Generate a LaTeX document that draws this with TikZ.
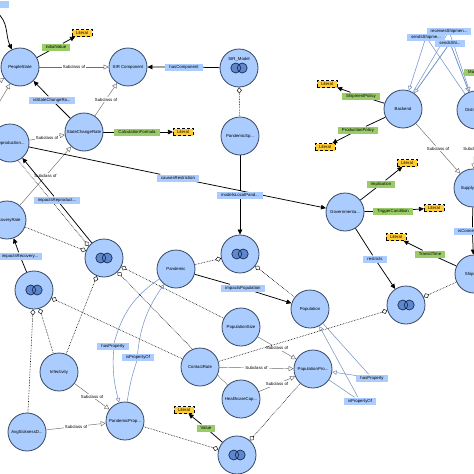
\documentclass[tikz,border=0pt]{standalone}
\usepackage{fontspec}
\setmainfont{Liberation Sans}
\usetikzlibrary{arrows.meta}

\definecolor{clsfill}{RGB}{170,204,255}
\definecolor{clsline}{RGB}{55,72,100}
\definecolor{dpfill}{RGB}{153,204,102}
\definecolor{litfill}{RGB}{255,204,51}
\definecolor{invline}{RGB}{120,150,200}
\definecolor{iconfill}{RGB}{95,135,205}
\definecolor{iconline}{RGB}{25,45,85}

\pgfdeclarelayer{edges}
\pgfsetlayers{edges,main}

\newcommand{\vfont}{\fontsize{4.3}{5}\selectfont}

\tikzset{
    cls/.style = {circle, draw=clsline, line width=0.8pt, fill=clsfill, minimum size=38pt, inner sep=0pt, font=\vfont},
    setnode/.style = {cls, path picture={
        \fill[iconfill] ([xshift=-3.2pt]path picture bounding box.center) circle (5pt)
                        ([xshift=3.2pt]path picture bounding box.center) circle (5pt);
        \draw[iconline, line width=0.7pt] ([xshift=-3.2pt]path picture bounding box.center) circle (5pt)
                        ([xshift=3.2pt]path picture bounding box.center) circle (5pt);}},
    opbox/.style = {rectangle, fill=clsfill, inner xsep=4pt, inner ysep=1.2pt, minimum height=7pt, font=\vfont},
    dpbox/.style = {rectangle, fill=dpfill, inner xsep=4pt, inner ysep=1.2pt, minimum height=7pt, font=\vfont},
    litbox/.style = {rectangle, fill=litfill, draw=black, densely dashed, line width=0.4pt, inner xsep=4pt, inner ysep=1.2pt, minimum height=7pt, font=\vfont},
    subtxt/.style = {fill=white, inner sep=1pt, font=\vfont},
    edgeop/.style = {-{Triangle[length=5pt,width=4.5pt]}, line width=0.75pt},
    edgesub/.style = {-{Triangle[length=5pt,width=5pt,fill=white]}, line width=0.45pt, draw=gray!85!black},
    edgeinv/.style = {-{Triangle[length=4.5pt,width=4.5pt,fill=white]}, line width=0.55pt, draw=invline},
    edgeset/.style = {{Diamond[length=6pt,width=5pt,fill=white,line width=0.45pt]}-, densely dotted, line width=0.6pt},
}

\begin{document}
\begin{tikzpicture}[x=1pt,y=1pt]
\useasboundingbox (0,0) rectangle (474,-474);
%
% classes
\node[cls] (ps) at (20,-67) {PeopleState};
\node[cls] (sirc) at (128,-67) {SIR Component};
\node[setnode] (sirm) at (239,-68) {};
\node[font=\vfont] (sirmtxt) at (239,-59) {SIR\_Model};
\node[cls] (pansp) at (240,-136) {PandemicSp...};
\node[cls] (scr) at (84,-132) {StateChangeRate};
\node[cls] (repr) at (10,-143) {Reproduction...};
\node[cls] (recr) at (7,-220) {RecoveryRate};
\node[setnode] (int2) at (104,-258) {};
\node[setnode] (int1) at (34,-290) {};
\node[setnode] (int3) at (240,-254) {};
\node[cls] (pan) at (176,-269) {Pandemic};
\node[cls] (pop) at (310,-309) {Population};
\node[cls] (popsz) at (241,-327) {PopulationSize};
\node[cls] (cr) at (200,-367) {ContactRate};
\node[cls] (hc) at (241,-399) {HealthcareCap...};
\node[cls] (popp) at (313,-369) {PopulationPro...};
\node[cls] (inf) at (59,-372) {Infectivity};
\node[cls] (avg) at (27,-432) {AvgSicknessD...};
\node[cls] (panp) at (125,-421) {PandemicProp...};
\node[setnode] (intb) at (237,-455) {};
\node[setnode] (intr) at (406,-305) {};
\node[cls] (be) at (403,-109) {Backend};
\node[cls] (dist) at (476,-110) {Distribution};
\node[cls] (sc) at (473,-188) {SupplyChain};
\node[cls] (ship) at (474,-274) {Shipment};
\node[cls] (gov) at (345,-212) {Governmenta...};
%
% literals
\node[litbox] (lit1) at (82,-33) {Literal};
\node[litbox] (lit2) at (183,-132) {Literal};
\node[litbox] (lit3) at (327,-84) {Literal};
\node[litbox] (lit4) at (325,-147) {Literal};
\node[litbox] (lit5) at (407,-163) {Literal};
\node[litbox] (lit6) at (434,-208) {Literal};
\node[litbox] (lit7) at (396,-237) {Literal};
\node[litbox] (lit8) at (184,-410) {Literal};
%
% datatype properties
\node[dpbox] (iv) at (56,-47) {initialValue};
\node[dpbox] (cf) at (137,-132) {CalculationFormula};
\node[dpbox] (spol) at (361,-96) {ShipmentPolicy};
\node[dpbox] (ppol) at (358,-130) {ProductionPolicy};
\node[dpbox] (impl) at (381,-184) {Implication};
\node[dpbox] (tcond) at (393,-211) {TriggerCondition};
\node[dpbox] (ttime) at (430,-254) {TransitTime};
\node[dpbox] (val) at (206,-428) {Value};
\node[dpbox, anchor=west, text width=14pt, align=left] (ma) at (464,-72) {Ma};
%
% object properties
\node[opbox, minimum width=26pt] (lbltl) at (-4,-4) {};
\node[opbox] (hcomp) at (184,-67) {hasComponent};
\node[opbox] (iscr) at (52,-100) {isStateChangeRa...};
\node[opbox] (cres) at (178,-178) {causesRestriction};
\node[opbox] (irep) at (57,-200) {impactsReproduct...};
\node[opbox] (irec) at (20,-256) {impactsRecovery...};
\node[opbox] (mlp) at (240,-195) {modelsLocalPand...};
\node[opbox] (ipop) at (243,-288) {impactsPopulation};
\node[opbox] (hp1) at (113,-346) {hasProperty};
\node[opbox] (ip1) at (138,-357) {isPropertyOf};
\node[opbox] (hp2) at (372,-378) {hasProperty};
\node[opbox] (ip2) at (360,-401) {isPropertyOf};
\node[opbox] (rstr) at (375,-259) {restricts};
\node[opbox, anchor=west] (iscon) at (454,-231) {isConnectedTo};
\node[opbox] (rs) at (449,-31) {receivesShipmen...};
\node[opbox] (ss1) at (426,-37) {sendsShipme...};
\node[opbox] (ss2) at (450,-43) {sendsShi...};
%
\coordinate (tla) at (-4,-12);
\coordinate (offa) at (-20,-95);
\coordinate (offb) at (-10,-118);
%
\begin{pgfonlayer}{edges}
\fill[white] (0,0) rectangle (474,-474);
% subclass
\draw[edgesub] (ps) -- node[subtxt] {Subclass of} (sirc);
\draw[edgesub] (scr) -- node[subtxt] {Subclass of} (sirc);
\draw[edgesub] (repr) -- node[subtxt] {Subclass of} (scr);
\draw[edgesub] (recr) -- node[subtxt] {Subclass of} (scr);
\draw[edgesub] (inf) -- node[subtxt] {Subclass of} (panp);
\draw[edgesub] (avg) -- node[subtxt] {Subclass of} (panp);
\draw[edgesub] (popsz) -- node[subtxt] {Subclass of} (popp);
\draw[edgesub] (cr) -- node[subtxt] {Subclass of} (popp);
\draw[edgesub] (hc) -- node[subtxt] {Subclass of} (popp);
\draw[edgesub] (be) -- node[subtxt] {Subclass of} (sc);
\draw[edgesub] (dist) -- node[subtxt] {Subclass of} (sc);
\draw[edgesub] (offa) -- (ps);
\draw[edgesub] (offb) -- (ps);
% object properties
\draw[edgeop] (tla) to[out=-35,in=115] (ps);
\draw[edgeop] (sirm) -- (hcomp) -- (sirc);
\draw[edgeop] (scr) -- (iscr) -- (ps);
\draw[edgeop] (repr) -- (cres) -- (gov);
\draw[edgeop] (int2) -- (irep) -- (repr);
\draw[edgeop] (int1) -- (irec) -- (recr);
\draw[edgeop] (pansp) -- (mlp) -- (int3);
\draw[edgeop] (pan) -- (ipop) -- (pop);
\draw[edgeop] (gov) -- (rstr) -- (intr);
\draw[edgeop] (sc) -- (iscon) -- (ship);
% datatype properties
\draw[edgeop] (ps) -- (iv) -- (lit1);
\draw[edgeop] (scr) -- (cf) -- (lit2);
\draw[edgeop] (be) -- (spol) -- (lit3);
\draw[edgeop] (be) -- (ppol) -- (lit4);
\draw[edgeop] (gov) -- (impl) -- (lit5);
\draw[edgeop] (gov) -- (tcond) -- (lit6);
\draw[edgeop] (ship) -- (ttime) -- (lit7);
\draw[edgeop] (intb) -- (val) -- (lit8);
% inverse pairs
\draw[edgeinv] (pan) to[bend right=20] (hp1) to[bend right=10] (panp);
\draw[edgeinv] (panp) to[bend left=5] (ip1) to[bend left=15] (pan);
\draw[edgeinv] (pop) -- (hp2) -- (popp);
\draw[edgeinv] (popp) -- (ip2) -- (pop);
\draw[edgeinv] (be) -- (rs) -- (dist);
\draw[edgeinv] (dist) -- (ss1) -- (be);
\draw[edgeinv] (be) -- (ss2) -- (dist);
\draw[edgeinv] (dist) -- (ss2) -- (be);
% set operators
\draw[edgeset] (sirm) -- (pansp);
\draw[edgeset] (int2.142) -- (repr.-65);
\draw[edgeset] (int2) -- (recr);
\draw[edgeset] (int2) -- (inf);
\draw[edgeset] (int2) -- (popsz);
\draw[edgeset] (int2) -- (hc);
\draw[edgeset] (int1) -- (cr);
\draw[edgeset] (int1) -- (avg);
\draw[edgeset] (int1) -- (inf);
\draw[edgeset] (int3) -- (pan);
\draw[edgeset] (int3) -- (pop);
\draw[edgeset] (intb) -- (panp);
\draw[edgeset] (intb) -- (popp);
\draw[edgeset] (intr) -- (cr);
\draw[edgeset] (intr) -- (ship);
\end{pgfonlayer}

\end{tikzpicture}
\end{document}
